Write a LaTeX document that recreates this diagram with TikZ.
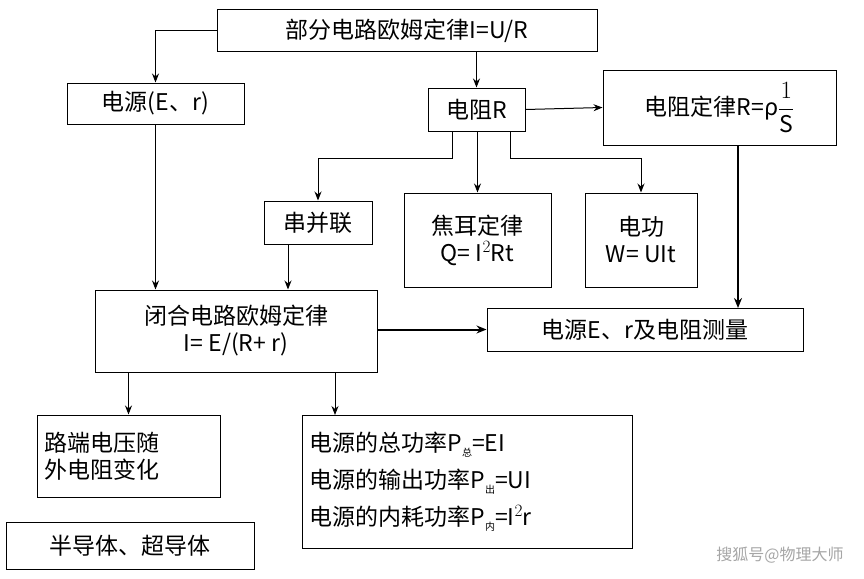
\documentclass[tikz,border=0pt]{standalone}
\usepackage{fontspec}
\setmainfont{Noto Sans CJK SC}
\usetikzlibrary{arrows.meta}
\newcommand{\sbx}[1]{\raisebox{-0.35ex}{\fontsize{10}{10}\selectfont #1}}
\begin{document}
\begin{tikzpicture}[x=1pt,y=-1pt,
  bx/.style={draw,line width=1pt,inner sep=0pt,font=\fontsize{23}{27}\selectfont},
  ar/.style={line width=1pt,-{Stealth[length=9pt,width=7pt]}},
  tar/.style={line width=2pt,-{Stealth[length=10pt,width=8pt]}}]
\fill[white] (0,0) rectangle (864,578);
\useasboundingbox (0,0) rectangle (864,578);
\node[bx,minimum width=380pt,minimum height=42pt] (top) at (407,31) {部分电路欧姆定律I=U/R};
\node[bx,minimum width=177pt,minimum height=41pt] (dy) at (155.5,103.5) {电源(E、r)};
\node[bx,minimum width=97pt,minimum height=43pt] (dz) at (476.5,109.5) {电阻R};
\node[bx,minimum width=233pt,minimum height=75pt] (dzdl) at (719.5,107.5) {电阻定律R=ρ$\displaystyle\frac{1}{\mathrm{S}}$};
\node[bx,minimum width=108pt,minimum height=43pt] (cbl) at (318,222.5) {串并联};
\node[bx,minimum width=147pt,minimum height=94pt,align=center] (je) at (477.5,240) {焦耳定律\\Q= I$^2$Rt};
\node[bx,minimum width=112pt,minimum height=94pt,align=center] (dg) at (641,240) {电功\\W= UIt};
\node[bx,minimum width=282pt,minimum height=82pt,align=center] (bh) at (236,331) {闭合电路欧姆定律\\I= E/(R+ r)};
\node[bx,minimum width=316pt,minimum height=43pt] (cl) at (645,329.5) {电源E、r及电阻测量};
\node[bx,minimum width=183pt,minimum height=82pt,align=left,text width=168pt] (ld) at (128.5,456) {路端电压随\\外电阻变化};
\node[bx,minimum width=330pt,minimum height=133pt,align=left,text width=315pt,font=\fontsize{23}{37}\selectfont] (gl) at (467,481.5) {电源的总功率P\sbx{总}=EI\\电源的输出功率P\sbx{出}=UI\\电源的内耗功率P\sbx{内}=I$^2$r};
\node[bx,minimum width=248pt,minimum height=47pt] (bd) at (130,545.5) {半导体、超导体};
\node[text=gray!70,font=\fontsize{16}{16}\selectfont] (wm) at (780,555) {搜狐号@物理大师};
\draw[ar] (top.west) -| (dy.north);
\draw[ar] (top.south -| dz.north) -- (dz.north);
\draw[ar] (dz.east) -- (dzdl.west);
\draw[ar] ([xshift=-24pt]dz.south) -- ++(0,27) -| (cbl.north);
\draw[ar] (dz.south -| je.north) -- (je.north);
\draw[ar] ([xshift=34pt]dz.south) -- ++(0,27) -| (dg.north);
\draw[ar] (dy.south) -- (dy.south |- bh.north);
\draw[ar] ([xshift=-30pt]cbl.south) -- ([xshift=-30pt]cbl.south |- bh.north);
\draw[tar] (bh.east |- cl.west) -- (cl.west);
\draw[tar] (738,145) -- (738,308);
\draw[ar] (ld.north |- bh.south) -- (ld.north);
\draw[ar] (335,372) -- (335,415);
\end{tikzpicture}
\end{document}
